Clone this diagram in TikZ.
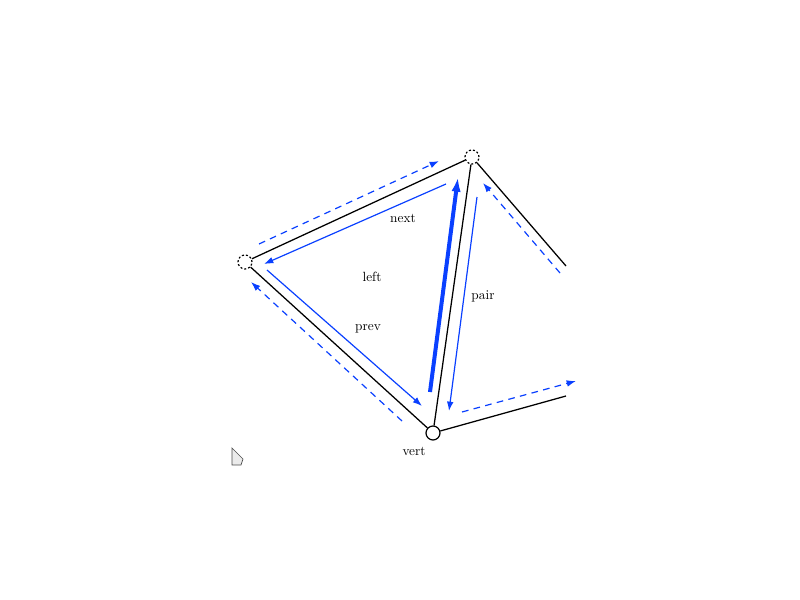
\documentclass[tikz,border=0pt]{standalone}
\usepackage{tikz}
\usetikzlibrary{arrows.meta}
\definecolor{halfblue}{RGB}{10,64,255}
\tikzset{
	edge/.style={line width=0.95pt,black},
	half/.style={line width=0.9pt,halfblue,-{Latex[length=7pt,width=5pt]}},
	halfdash/.style={half,dashed,dash pattern=on 5pt off 4pt},
	halfbig/.style={line width=3pt,halfblue,-{Latex[length=11pt,width=7pt]}},
	vtx/.style={circle,draw,line width=0.9pt,fill=white,inner sep=0pt,minimum size=10.5pt},
	ghost/.style={vtx,dashed,dash pattern=on 1.5pt off 1.5pt},
	lab/.style={font=\normalsize}
}
\begin{document}
\begin{tikzpicture}[x=0.75pt,y=-0.75pt]
	\useasboundingbox (0,0) rectangle (800,600);
	%vertices
	\coordinate (r1) at (566,266);
	\coordinate (r2) at (566,396);
	\node[ghost] (top)  at (472,157) {};
	\node[ghost] (left) at (245,262) {};
	\node[vtx]   (vert) at (433,433) {};
	
	%edges
	\draw[edge] (left)--(top);
	\draw[edge] (left)--(vert);
	\draw[edge] (vert)--(top);
	\draw[edge] (top)--(r1);
	\draw[edge] (vert)--(r2);
	
	%half edges
	\coordinate (hs) at (430,392);   \coordinate (he) at (458,177);	%thick one
	\coordinate (ps) at (477,197);   \coordinate (pe) at (449,411);	%pair
	\coordinate (ns) at (446,184);   \coordinate (ne) at (264,264);	%next
	\coordinate (vs) at (267,270);   \coordinate (ve) at (422,406);	%prev
	\draw[halfbig] (hs)--(he);
	\draw[half] (ps)--(pe);
	\draw[half] (ns)--(ne);
	\draw[half] (vs)--(ve);
	%
	\coordinate (a1) at (259,244);   \coordinate (a2) at (439,161);
	\coordinate (b1) at (402,421);   \coordinate (b2) at (251,282);
	\coordinate (c1) at (560,273);   \coordinate (c2) at (483,183);
	\coordinate (d1) at (462,412);   \coordinate (d2) at (576,381);
	\draw[halfdash] (a1)--(a2);
	\draw[halfdash] (b1)--(b2);
	\draw[halfdash] (c1)--(c2);
	\draw[halfdash] (d1)--(d2);
	
	%labels
	\node[lab] (nextlab) at (403,218) {next};
	\node[lab] (leftlab) at (372,277) {left};
	\node[lab] (prevlab) at (368,329) {prev};
	\node[lab] (pairlab) at (483,296) {pair};
	\node[lab] (vertlab) at (414,451) {vert};
	
	%pointer
	\filldraw[draw=black!70,fill=black!8,line width=0.5pt] (232,448)--(243,459)--(241,465)--(232,465)--cycle;
\end{tikzpicture}
\end{document}
